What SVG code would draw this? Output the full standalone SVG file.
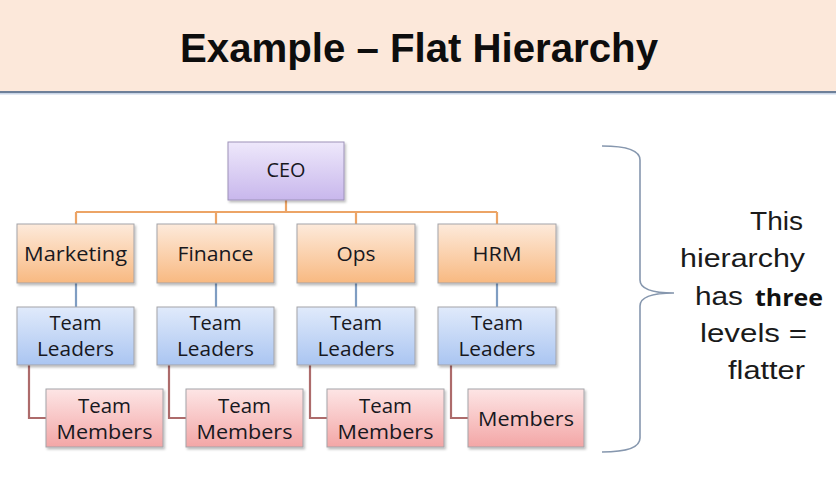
<svg xmlns="http://www.w3.org/2000/svg" width="836" height="504" viewBox="0 0 836 504">
<defs>
<linearGradient id="gP" x1="0" y1="0" x2="0" y2="1"><stop offset="0" stop-color="#eee8fb"/><stop offset="1" stop-color="#c8b7ec"/></linearGradient>
<linearGradient id="gO" x1="0" y1="0" x2="0" y2="1"><stop offset="0" stop-color="#fdeadb"/><stop offset="1" stop-color="#f8b981"/></linearGradient>
<linearGradient id="gB" x1="0" y1="0" x2="0" y2="1"><stop offset="0" stop-color="#e0eafb"/><stop offset="1" stop-color="#aac5f1"/></linearGradient>
<linearGradient id="gR" x1="0" y1="0" x2="0" y2="1"><stop offset="0" stop-color="#fde5e5"/><stop offset="1" stop-color="#f3a6a6"/></linearGradient>
<filter id="sh" x="-10%" y="-10%" width="125%" height="130%"><feDropShadow dx="1.5" dy="2" stdDeviation="1.2" flood-color="#000" flood-opacity="0.25"/></filter>
</defs>
<style>
.box{stroke:#a3a3a8;stroke-width:1;filter:url(#sh)}
.p{fill:url(#gP);stroke:#9d92b8}
.o{fill:url(#gO)}
.b{fill:url(#gB)}
.r{fill:url(#gR)}
.lbl{font-family:"Open Sans","Liberation Sans",sans-serif;font-size:20.5px;fill:#18181e;text-anchor:middle}
.side{font-family:"Liberation Sans",Arial,sans-serif;font-size:25px;fill:#1a1a1a}
.co{stroke:#eca466;stroke-width:2.2;fill:none}
.cb{stroke:#7f9dc2;stroke-width:2.2;fill:none}
.cr{stroke:#ad6b6b;stroke-width:2.2;fill:none}
</style>
<rect x="0" y="0" width="836" height="91" fill="#fce8da"/>
<rect x="0" y="91" width="836" height="2" fill="#6e8099"/>
<rect x="0" y="93" width="836" height="1.5" fill="#c9d6e8"/>
<text x="419" y="62" font-family="'Liberation Sans',Arial,sans-serif" font-weight="bold" font-size="40" fill="#0d0d0d" text-anchor="middle" textLength="478" lengthAdjust="spacingAndGlyphs">Example – Flat Hierarchy</text>

<g id="connectors">
<path class="co" d="M286,200 V212 M76,212 H497 M76,212 V224 M216,212 V224 M356,212 V224 M497,212 V224"/>
<path class="cb" d="M76,283 V307 M216,283 V307 M356,283 V307 M497,283 V307"/>
<path class="cr" d="M29,365 V418 H46 M169,365 V418 H186 M310,365 V418 H327 M451,365 V418 H468"/>
</g>

<g id="ceo"><rect class="box p" x="228" y="142" width="116" height="58"/><text class="lbl" x="286" y="177" textLength="39" lengthAdjust="spacingAndGlyphs">CEO</text></g>

<g id="marketing"><rect class="box o" x="17" y="224" width="117" height="59"/><text class="lbl" x="75.5" y="261" textLength="103" lengthAdjust="spacingAndGlyphs">Marketing</text></g>
<g id="finance"><rect class="box o" x="157" y="224" width="117" height="59"/><text class="lbl" x="215.5" y="261" textLength="76" lengthAdjust="spacingAndGlyphs">Finance</text></g>
<g id="ops"><rect class="box o" x="297" y="224" width="118" height="59"/><text class="lbl" x="356" y="261" textLength="39" lengthAdjust="spacingAndGlyphs">Ops</text></g>
<g id="hrm"><rect class="box o" x="438" y="224" width="118" height="59"/><text class="lbl" x="497" y="261" textLength="49" lengthAdjust="spacingAndGlyphs">HRM</text></g>

<g id="tl1"><rect class="box b" x="17" y="307" width="117" height="58"/><text class="lbl" x="75.5" y="330" textLength="52" lengthAdjust="spacingAndGlyphs">Team</text><text class="lbl" x="75.5" y="356" textLength="77" lengthAdjust="spacingAndGlyphs">Leaders</text></g>
<g id="tl2"><rect class="box b" x="157" y="307" width="117" height="58"/><text class="lbl" x="215.5" y="330" textLength="52" lengthAdjust="spacingAndGlyphs">Team</text><text class="lbl" x="215.5" y="356" textLength="77" lengthAdjust="spacingAndGlyphs">Leaders</text></g>
<g id="tl3"><rect class="box b" x="297" y="307" width="118" height="58"/><text class="lbl" x="356" y="330" textLength="52" lengthAdjust="spacingAndGlyphs">Team</text><text class="lbl" x="356" y="356" textLength="77" lengthAdjust="spacingAndGlyphs">Leaders</text></g>
<g id="tl4"><rect class="box b" x="438" y="307" width="118" height="58"/><text class="lbl" x="497" y="330" textLength="52" lengthAdjust="spacingAndGlyphs">Team</text><text class="lbl" x="497" y="356" textLength="77" lengthAdjust="spacingAndGlyphs">Leaders</text></g>

<g id="tm1"><rect class="box r" x="46" y="389" width="117" height="58"/><text class="lbl" x="104.5" y="413" textLength="53" lengthAdjust="spacingAndGlyphs">Team</text><text class="lbl" x="104.5" y="439" textLength="96" lengthAdjust="spacingAndGlyphs">Members</text></g>
<g id="tm2"><rect class="box r" x="186" y="389" width="117" height="58"/><text class="lbl" x="244.5" y="413" textLength="53" lengthAdjust="spacingAndGlyphs">Team</text><text class="lbl" x="244.5" y="439" textLength="96" lengthAdjust="spacingAndGlyphs">Members</text></g>
<g id="tm3"><rect class="box r" x="327" y="389" width="117" height="58"/><text class="lbl" x="385.5" y="413" textLength="53" lengthAdjust="spacingAndGlyphs">Team</text><text class="lbl" x="385.5" y="439" textLength="96" lengthAdjust="spacingAndGlyphs">Members</text></g>
<g id="tm4"><rect class="box r" x="468" y="389" width="116" height="58"/><text class="lbl" x="526" y="426" textLength="96" lengthAdjust="spacingAndGlyphs">Members</text></g>

<g id="brace"><path d="M602,146 Q640,146 640,160 L640,280 Q640,293 674,293 Q640,293 640,306 L640,438 Q640,452 602,452" fill="none" stroke="#8697ae" stroke-width="1.6"/></g>

<g id="note">
<text class="side" x="803" y="230" text-anchor="end" textLength="53" lengthAdjust="spacingAndGlyphs">This</text>
<text class="side" x="805" y="267" text-anchor="end" textLength="125" lengthAdjust="spacingAndGlyphs">hierarchy</text>
<text class="side" x="695" y="305" textLength="48" lengthAdjust="spacingAndGlyphs">has</text>
<text x="755" y="306" font-family="'Open Sans','Liberation Sans',sans-serif" font-weight="bold" font-size="24" fill="#111" textLength="68" lengthAdjust="spacingAndGlyphs">three</text>
<text class="side" x="807" y="342" text-anchor="end" textLength="107" lengthAdjust="spacingAndGlyphs">levels =</text>
<text class="side" x="805" y="379" text-anchor="end" textLength="77" lengthAdjust="spacingAndGlyphs">flatter</text>
</g>
</svg>
